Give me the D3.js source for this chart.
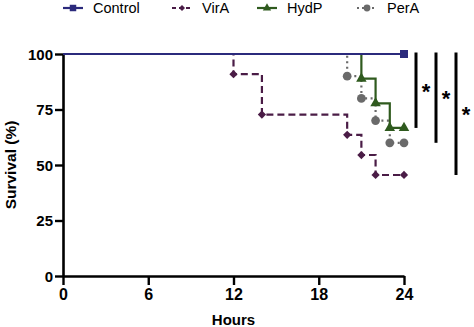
<!DOCTYPE html>
<html>
<head>
<meta charset="utf-8">
<script src="https://cdn.jsdelivr.net/npm/d3@7"></script>
<style>
  body { margin: 0; background: #fff; }
  svg { display: block; font-family: Arial, "Liberation Sans", sans-serif; }
</style>
</head>
<body>
<svg id="chart" width="474" height="327"></svg>
<script>
// survival curves (hours, % alive)
const groups = ['Control', 'VirA', 'HydP', 'PerA'];
const controlData = [[0, 100], [24, 100]];
const virAData = [[0, 100], [12, 90.9], [14, 72.7], [20, 63.6], [21, 54.5], [22, 45.5], [24, 45.5]];
const hydPData = [[0, 100], [21, 88.9], [22, 77.8], [23, 66.7], [24, 66.7]];
const perAData = [[0, 100], [20, 90], [21, 80], [22, 70], [23, 60], [24, 60]];
const xTicks = [0, 6, 12, 18, 24];
const yTicks = [0, 25, 50, 75, 100];
// significance bars: from 100% down to the group's final survival
const sigBars = [66.7, 60, 45.5];

const margin = { top: 54, right: 70, bottom: 51, left: 63 };
const width = 474, height = 327;

const svg = d3.select('#chart');

const x = d3.scaleLinear().domain([0, 24]).range([margin.left, width - margin.right]);
const y = d3.scaleLinear().domain([0, 100]).range([height - margin.bottom, margin.top]);

const styles = {
    Control: { color: '#2b2a7c', dash: null, legendDash: null, marker: 'square', data: controlData, markAll: false },
    VirA: { color: '#4a1c46', dash: '7,4', legendDash: '4,3', marker: 'diamond', data: virAData, markAll: true },
    HydP: { color: '#2f5a1e', dash: null, legendDash: null, marker: 'triangle', data: hydPData, markAll: true },
    PerA: { color: '#6a6a6a', dash: '2,3.5', legendDash: '2,3', marker: 'circle', data: perAData, markAll: true },
};

const symbols = {
    square: d3.symbol().type(d3.symbolSquare).size(64),
    diamond: d3.symbol().type(d3.symbolSquare).size(34),
    triangle: d3.symbol().type(d3.symbolTriangle).size(48),
    circle: d3.symbol().type(d3.symbolCircle).size(60),
};
const legendSymbols = {
    square: d3.symbol().type(d3.symbolSquare).size(42),
    diamond: d3.symbol().type(d3.symbolSquare).size(18),
    triangle: d3.symbol().type(d3.symbolTriangle).size(30),
    circle: d3.symbol().type(d3.symbolCircle).size(36),
};
const rot = m => (m === 'diamond' ? ' rotate(45)' : '');

// axes
const xAxis = svg.append('g')
    .attr('transform', `translate(0, ${y(0)})`)
    .call(d3.axisBottom(x).tickValues(xTicks).tickSize(9).tickSizeOuter(0).tickPadding(4));
const yAxis = svg.append('g')
    .attr('transform', `translate(${x(0)}, 0)`)
    .call(d3.axisLeft(y).tickValues(yTicks).tickSize(8).tickSizeOuter(0).tickPadding(2));

[xAxis, yAxis].forEach(a => {
    a.select('.domain').attr('stroke', '#000').attr('stroke-width', 2.6);
    a.selectAll('.tick line').attr('stroke', '#000').attr('stroke-width', 2.4);
    a.selectAll('.tick text')
        .attr('fill', '#000')
        .style('font-size', '16px')
        .style('font-weight', 'bold');
});
yAxis.selectAll('.tick text').style('font-size', '15px').attr('dy', '0.36em');

svg.append('text')
    .attr('x', x(12))
    .attr('y', 325)
    .attr('text-anchor', 'middle')
    .style('font-size', '15px')
    .style('font-weight', 'bold')
    .text('Hours');

svg.append('text')
    .attr('transform', `translate(16, ${(y(0) + y(100)) / 2}) rotate(-90)`)
    .attr('text-anchor', 'middle')
    .style('font-size', '15.5px')
    .style('font-weight', 'bold')
    .text('Survival (%)');

// curves
const line = d3.line()
    .x(d => x(d[0]))
    .y(d => y(d[1]))
    .curve(d3.curveStepAfter);

const drawOrder = ['PerA', 'HydP', 'VirA', 'Control'];
drawOrder.forEach(g => {
    const s = styles[g];
    svg.append('path')
        .datum(s.data)
        .attr('d', line)
        .attr('fill', 'none')
        .attr('stroke', s.color)
        .attr('stroke-width', 2.2)
        .attr('stroke-dasharray', s.dash);

    const pts = s.markAll ? s.data.slice(1) : s.data.slice(-1);
    svg.append('g')
        .selectAll('path')
        .data(pts)
        .join('path')
        .attr('transform', d => `translate(${x(d[0])}, ${y(d[1])})${rot(s.marker)}`)
        .attr('d', symbols[s.marker])
        .attr('fill', s.color);
});

// significance bars
sigBars.forEach((v, i) => {
    const bx = x(24) + 12 + i * 20;
    svg.append('line')
        .attr('x1', bx).attr('x2', bx)
        .attr('y1', y(100) - 1.5).attr('y2', y(v))
        .attr('stroke', '#000')
        .attr('stroke-width', 3);
    svg.append('text')
        .attr('x', bx + 10)
        .attr('y', (y(100) + y(v)) / 2 + 8)
        .attr('text-anchor', 'middle')
        .style('font-size', '22px')
        .style('font-weight', 'bold')
        .text('*');
});

// legend
const legendX = [63, 172, 257, 357];
const legend = svg.append('g');
groups.forEach((g, i) => {
    const s = styles[g];
    const lx = legendX[i];
    legend.append('line')
        .attr('x1', lx).attr('x2', lx + 20)
        .attr('y1', 8).attr('y2', 8)
        .attr('stroke', s.color)
        .attr('stroke-width', 2.2)
        .attr('stroke-dasharray', s.legendDash);
    legend.append('path')
        .attr('transform', `translate(${lx + 10}, 8)${rot(s.marker)}`)
        .attr('d', legendSymbols[s.marker])
        .attr('fill', s.color);
    legend.append('text')
        .attr('x', lx + 30)
        .attr('y', 13)
        .style('font-size', '14.5px')
        .attr('fill', '#000')
        .text(g);
});
</script>
</body>
</html>
